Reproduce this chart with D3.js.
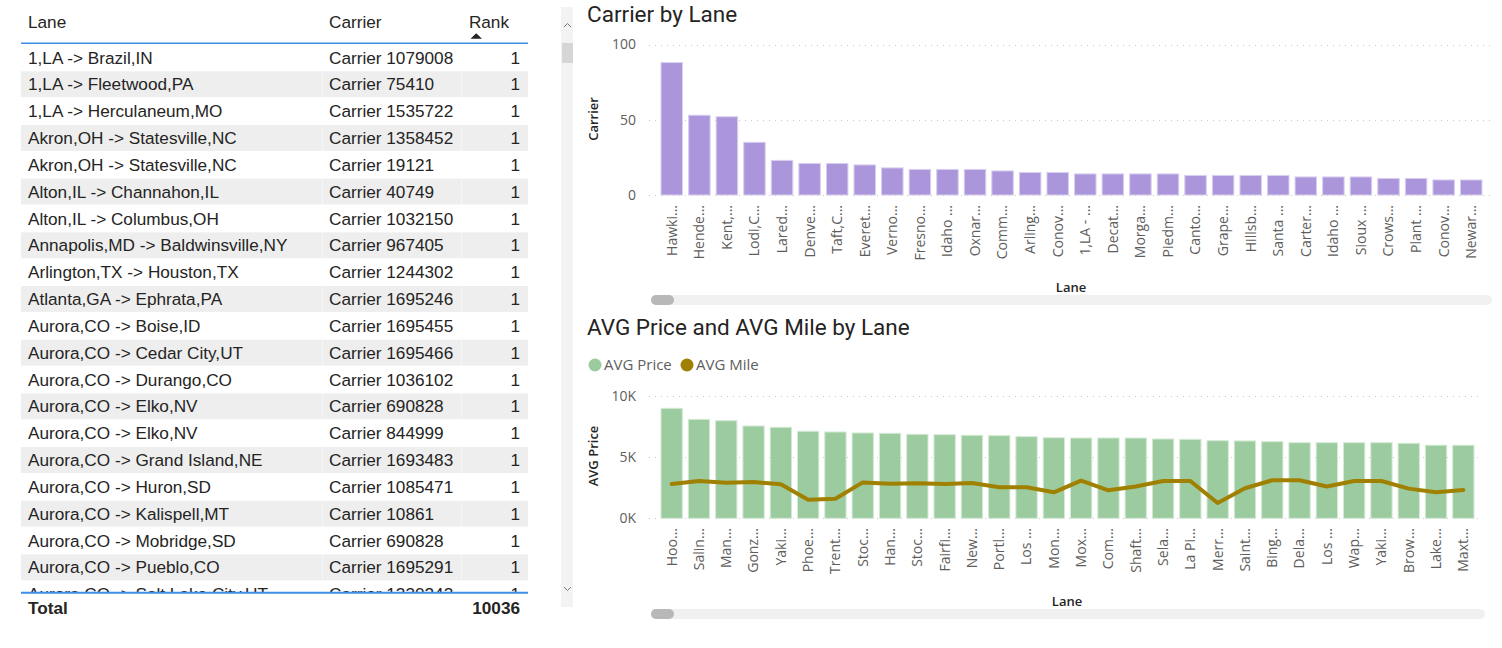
<!DOCTYPE html>
<html>
<head>
<meta charset="UTF-8">
<title>Carrier / Lane report</title>
<script src="https://d3js.org/d3.v7.min.js"></script>
<style>
  body {
    margin: 0;
    padding: 0;
    background: #ffffff;
    font-family: "Segoe UI", "Open Sans", sans-serif;
  }
  .tick-label { fill: #605e5c; font-size: 14px; }
  .title { fill: #252423; font-family: "Roboto", "Segoe UI", sans-serif; font-size: 22.5px; }
  .axis-title { fill: #252423; font-size: 13px; font-weight: 600; }
  .cell { fill: #252423; font-family: "Liberation Sans", Arial, sans-serif; font-size: 17.2px; }
</style>
</head>
<body>
<svg id="page" width="1502" height="648"></svg>
<script>
// ---- table data ----
const tableLanes = [
  "1,LA -> Brazil,IN", "1,LA -> Fleetwood,PA", "1,LA -> Herculaneum,MO",
  "Akron,OH -> Statesville,NC", "Akron,OH -> Statesville,NC", "Alton,IL -> Channahon,IL",
  "Alton,IL -> Columbus,OH", "Annapolis,MD -> Baldwinsville,NY", "Arlington,TX -> Houston,TX",
  "Atlanta,GA -> Ephrata,PA", "Aurora,CO -> Boise,ID", "Aurora,CO -> Cedar City,UT",
  "Aurora,CO -> Durango,CO", "Aurora,CO -> Elko,NV", "Aurora,CO -> Elko,NV",
  "Aurora,CO -> Grand Island,NE", "Aurora,CO -> Huron,SD", "Aurora,CO -> Kalispell,MT",
  "Aurora,CO -> Mobridge,SD", "Aurora,CO -> Pueblo,CO", "Aurora,CO -> Salt Lake City,UT"
];
const tableCarriers = [
  "Carrier 1079008", "Carrier 75410", "Carrier 1535722", "Carrier 1358452", "Carrier 19121",
  "Carrier 40749", "Carrier 1032150", "Carrier 967405", "Carrier 1244302", "Carrier 1695246",
  "Carrier 1695455", "Carrier 1695466", "Carrier 1036102", "Carrier 690828", "Carrier 844999",
  "Carrier 1693483", "Carrier 1085471", "Carrier 10861", "Carrier 690828", "Carrier 1695291",
  "Carrier 1330243"
];
const tableRanks = [1, 1, 1, 1, 1, 1, 1, 1, 1, 1, 1, 1, 1, 1, 1, 1, 1, 1, 1, 1, 1];
const rankTotal = 10036;

// ---- Carrier by Lane ----
const carrierLanes = [
  "Hawki...", "Hende...", "Kent,...", "Lodi,C...", "Lared...", "Denve...", "Taft,C...",
  "Everet...", "Verno...", "Fresno...", "Idaho ...", "Oxnar...", "Comm...", "Arling...",
  "Conov...", "1,LA - ...", "Decat...", "Morga...", "Piedm...", "Canto...", "Grape...",
  "Hillsb...", "Santa ...", "Carter...", "Idaho ...", "Sioux ...", "Crows...", "Plant ...",
  "Conov...", "Newar..."
];
const carrierCounts = [88, 53, 52, 35, 23, 21, 21, 20, 18, 17, 17, 17, 16, 15,
  15, 14, 14, 14, 14, 13, 13, 13, 13, 12, 12, 12, 11, 11, 10, 10];
const carrierTicks = [0, 50, 100];

// ---- AVG Price and AVG Mile by Lane ----
const priceLanes = [
  "Hoo...", "Salin...", "Man...", "Gonz...", "Yaki...", "Phoe...", "Trent...", "Stoc...",
  "Han...", "Stoc...", "Fairfi...", "New...", "Portl...", "Los ...", "Mon...", "Mox...",
  "Com...", "Shaft...", "Sela...", "La Pi...", "Merr...", "Saint...", "Bing...", "Dela...",
  "Los ...", "Wap...", "Yaki...", "Brow...", "Lake...", "Maxt..."
];
const avgPrice = [8970, 8070, 7960, 7530, 7420, 7100, 7040, 6960, 6930, 6850, 6820, 6770,
  6740, 6660, 6570, 6550, 6550, 6550, 6470, 6440, 6330, 6310, 6250, 6170, 6170, 6170,
  6170, 6120, 5960, 5960];
const avgMile = [2800, 3040, 2900, 2960, 2770, 1520, 1600, 2930, 2820, 2850, 2800, 2880,
  2530, 2530, 2120, 3080, 2280, 2590, 3040, 3040, 1250, 2450, 3100, 3100, 2590, 3040,
  3040, 2420, 2120, 2310];
const priceTicks = [0, 5000, 10000];

const svg = d3.select("#page");

// ================= TABLE =================
const tbl = svg.append("g");
const tLeft = 21, tRight = 528;
const rowTop = 44, rowH = 26.84;
const colLane = 28, colCarrier = 329, colRank = 520;
const baseOff = rowH / 2 + 6.1;

// headers
tbl.append("text").attr("class", "cell").attr("x", colLane).attr("y", 27.5).text("Lane");
tbl.append("text").attr("class", "cell").attr("x", colCarrier).attr("y", 27.5).text("Carrier");
tbl.append("text").attr("class", "cell").attr("x", 509).attr("y", 27.5)
  .attr("text-anchor", "end").text("Rank");
tbl.append("path").attr("d", "M470.5,38.7 L476.2,33.3 L482,38.7 Z").attr("fill", "#252423");

svg.append("clipPath").attr("id", "bodyClip")
  .append("rect").attr("x", tLeft).attr("y", rowTop).attr("width", tRight - tLeft).attr("height", 548);

const body = tbl.append("g").attr("clip-path", "url(#bodyClip)");
const rows = body.selectAll("g.row")
  .data(d3.range(tableLanes.length))
  .enter().append("g").attr("class", "row")
  .attr("transform", i => `translate(0,${rowTop + i * rowH})`);

rows.filter(i => i % 2 === 1).append("rect")
  .attr("x", tLeft).attr("y", 0.5).attr("width", tRight - tLeft).attr("height", rowH - 1)
  .attr("fill", "#eeeeee");
// faint column gaps on shaded rows
rows.filter(i => i % 2 === 1).selectAll("line.gap").data([322.5, 461.5]).enter()
  .append("line").attr("x1", d => d).attr("x2", d => d).attr("y1", 0).attr("y2", rowH)
  .attr("stroke", "#f6f6f6").attr("stroke-width", 1);

rows.append("text").attr("class", "cell").attr("x", colLane).attr("y", baseOff)
  .text(i => tableLanes[i]);
rows.append("text").attr("class", "cell").attr("x", colCarrier).attr("y", baseOff)
  .text(i => tableCarriers[i]);
rows.append("text").attr("class", "cell").attr("x", colRank).attr("y", baseOff)
  .attr("text-anchor", "end").text(i => tableRanks[i]);

// header / total lines
tbl.append("line").attr("x1", tLeft).attr("x2", tRight).attr("y1", 43.3).attr("y2", 43.3)
  .attr("stroke", "#3c8ee6").attr("stroke-width", 1.5);
tbl.append("line").attr("x1", tLeft).attr("x2", tRight).attr("y1", 592.7).attr("y2", 592.7)
  .attr("stroke", "#3c8ee6").attr("stroke-width", 2);
tbl.append("text").attr("class", "cell").attr("x", colLane).attr("y", 613.5)
  .attr("font-weight", "bold").text("Total");
tbl.append("text").attr("class", "cell").attr("x", colRank).attr("y", 613.5)
  .attr("font-weight", "bold").attr("text-anchor", "end").text(rankTotal);

// vertical scroll bar
tbl.append("rect").attr("x", 561).attr("y", 7).attr("width", 12).attr("height", 600).attr("fill", "#f3f3f3");
tbl.append("rect").attr("x", 562).attr("y", 43).attr("width", 11).attr("height", 20).attr("fill", "#d6d6d6");
tbl.append("path").attr("d", "M564,27 L567.5,23.5 L571,27").attr("fill", "none").attr("stroke", "#777");
tbl.append("path").attr("d", "M564,587 L567.5,590.5 L571,587").attr("fill", "none").attr("stroke", "#777");

// ================= CHART HELPERS =================
function dottedGrid(g, y, ticks, x1, x2) {
  g.selectAll("line.grid").data(ticks).enter().append("line")
    .attr("x1", x1).attr("x2", x2)
    .attr("y1", d => Math.round(y(d)) + 0.5).attr("y2", d => Math.round(y(d)) + 0.5)
    .attr("stroke", "#c8c6c4").attr("stroke-width", 1).attr("stroke-dasharray", "1,5");
}

function xLabels(g, x, labels, yStart) {
  g.selectAll("text.xl").data(labels).enter().append("text")
    .attr("class", "tick-label")
    .attr("text-anchor", "end")
    .attr("transform", (d, i) => `translate(${x(i) + x.bandwidth() / 2},${yStart}) rotate(-90)`)
    .attr("dy", "0.35em")
    .text(d => d);
}

function hScroll(g, x1, x2, y) {
  g.append("rect").attr("x", x1).attr("y", y).attr("width", x2 - x1).attr("height", 10)
    .attr("rx", 5).attr("fill", "#f0f0f0");
  g.append("rect").attr("x", x1).attr("y", y).attr("width", 23).attr("height", 10)
    .attr("rx", 5).attr("fill", "#b8b8b8");
}

// ================= CARRIER BY LANE =================
const c1 = svg.append("g");
const x1 = d3.scaleBand().domain(d3.range(carrierLanes.length)).range([658, 1485])
  .paddingInner(0.22).paddingOuter(0.11);
const y1 = d3.scaleLinear().domain([0, 100]).range([195, 44.5]);

c1.append("text").attr("class", "title").attr("x", 587).attr("y", 21.5).text("Carrier by Lane");
dottedGrid(c1, y1, carrierTicks, 649, 1490);
c1.selectAll("text.yl").data(carrierTicks).enter().append("text")
  .attr("class", "tick-label").attr("text-anchor", "end")
  .attr("x", 636).attr("y", d => y1(d)).attr("dy", "0.35em").text(d => d);

c1.selectAll("rect.bar").data(carrierCounts).enter().append("rect")
  .attr("x", (d, i) => x1(i)).attr("width", x1.bandwidth())
  .attr("y", d => y1(d)).attr("height", d => y1(0) - y1(d))
  .attr("fill", "#ab96dc").attr("stroke", "#d9cff0").attr("stroke-width", 1);

xLabels(c1, x1, carrierLanes, 205);
c1.append("text").attr("class", "axis-title").attr("text-anchor", "middle")
  .attr("transform", "translate(598,119) rotate(-90)").text("Carrier");
c1.append("text").attr("class", "axis-title").attr("text-anchor", "middle").attr("font-weight", 400)
  .attr("x", 1071).attr("y", 292).text("Lane");
hScroll(c1, 651, 1492, 295);

// ================= AVG PRICE AND AVG MILE =================
const c2 = svg.append("g");
const x2 = d3.scaleBand().domain(d3.range(priceLanes.length)).range([658, 1477])
  .paddingInner(0.22).paddingOuter(0.11);
const y2 = d3.scaleLinear().domain([0, 10000]).range([518.3, 395.7]);

c2.append("text").attr("class", "title").attr("x", 587).attr("y", 334.5)
  .text("AVG Price and AVG Mile by Lane");

// legend
const legend = [
  { name: "AVG Price", color: "#9dcba0", x: 595 },
  { name: "AVG Mile", color: "#a08000", x: 687 }
];
c2.selectAll("circle.lg").data(legend).enter().append("circle")
  .attr("cx", d => d.x).attr("cy", 365).attr("r", 6.5).attr("fill", d => d.color);
c2.selectAll("text.lg").data(legend).enter().append("text")
  .attr("x", d => d.x + 9).attr("y", 365).attr("dy", "0.35em")
  .attr("fill", "#605e5c").attr("font-size", 15).text(d => d.name);

dottedGrid(c2, y2, priceTicks, 649, 1481);
c2.selectAll("text.yl").data(priceTicks).enter().append("text")
  .attr("class", "tick-label").attr("text-anchor", "end")
  .attr("x", 636).attr("y", d => y2(d)).attr("dy", "0.35em").text(d => (d / 1000) + "K");

c2.selectAll("rect.bar").data(avgPrice).enter().append("rect")
  .attr("x", (d, i) => x2(i)).attr("width", x2.bandwidth())
  .attr("y", d => y2(d)).attr("height", d => y2(0) - y2(d))
  .attr("fill", "#9dcba0").attr("stroke", "#d3ead4").attr("stroke-width", 1);

const mileLine = d3.line()
  .x((d, i) => x2(i) + x2.bandwidth() / 2)
  .y(d => y2(d));
c2.append("path").datum(avgMile).attr("d", mileLine)
  .attr("fill", "none").attr("stroke", "#a08000").attr("stroke-width", 4)
  .attr("stroke-linejoin", "round").attr("stroke-linecap", "round");

xLabels(c2, x2, priceLanes, 528);
c2.append("text").attr("class", "axis-title").attr("text-anchor", "middle")
  .attr("transform", "translate(598,456) rotate(-90)").text("AVG Price");
c2.append("text").attr("class", "axis-title").attr("text-anchor", "middle").attr("font-weight", 400)
  .attr("x", 1067).attr("y", 606).text("Lane");
hScroll(c2, 651, 1485, 609);
</script>
</body>
</html>
